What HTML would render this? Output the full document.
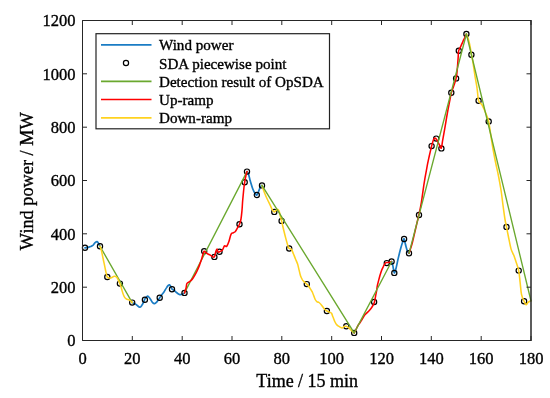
<!DOCTYPE html>
<html><head><meta charset="utf-8"><title>Wind power ramp detection</title>
<style>
html,body{margin:0;padding:0;background:#fff;}
body{width:550px;height:398px;overflow:hidden;}
svg{display:block;will-change:transform;}
text{font-family:"Liberation Serif",serif;fill:#000;stroke:#000;stroke-width:0.35px;}
.t{font-size:16.5px;}
.l{font-size:18px;}
.yl{font-size:18.3px;}
.g{font-size:15.1px;}
</style></head>
<body>
<svg width="550" height="398" viewBox="0 0 550 398">
<rect width="550" height="398" fill="#fff"/>
<path d="M85.0,247.8 C85.5,247.7 87.1,247.6 88.0,247.4 C88.9,247.2 89.8,247.0 90.6,246.6 C91.4,246.2 92.3,245.8 93.1,245.1 C93.8,244.4 94.4,243.3 95.1,242.7 C95.8,242.1 96.5,241.5 97.1,241.6 C97.7,241.7 98.1,242.7 98.6,243.5 C99.1,244.3 99.8,245.8 100.0,246.3" fill="none" stroke="#1A7CC4" stroke-width="1.7" stroke-linejoin="round" stroke-linecap="round"/>
<path d="M132.2,302.6 C132.8,302.9 134.4,303.3 135.6,304.1 C136.8,304.9 138.4,307.0 139.5,307.2 C140.6,307.4 141.3,306.0 142.0,305.1 C142.7,304.2 143.3,302.7 143.8,301.6 C144.3,300.6 144.4,299.7 145.0,298.8 C145.6,297.9 146.7,296.6 147.3,296.3 C147.9,296.0 148.2,296.4 148.8,297.0 C149.4,297.6 150.2,298.9 150.8,299.8 C151.4,300.7 152.0,302.0 152.6,302.6 C153.2,303.2 153.9,303.7 154.6,303.6 C155.3,303.5 156.0,302.7 156.6,302.1 C157.2,301.5 157.6,300.8 158.1,300.1 C158.6,299.4 159.1,298.6 159.7,297.7 C160.3,296.8 160.9,295.9 161.6,295.0 C162.3,294.1 163.0,293.5 163.8,292.3 C164.6,291.1 165.8,288.8 166.6,287.6 C167.3,286.4 167.8,285.8 168.3,285.3 C168.8,284.8 169.1,284.6 169.5,284.8 C169.9,285.0 170.4,285.8 170.8,286.5 C171.2,287.2 171.5,288.6 172.1,289.2 C172.7,289.8 173.5,289.8 174.2,290.4 C174.9,290.9 175.7,291.9 176.5,292.5 C177.3,293.1 178.2,293.8 178.9,294.2 C179.6,294.6 180.2,294.7 180.8,294.7 C181.4,294.7 182.1,294.3 182.7,294.0 C183.3,293.7 184.2,293.1 184.5,292.9" fill="none" stroke="#1A7CC4" stroke-width="1.7" stroke-linejoin="round" stroke-linecap="round"/>
<path d="M247.0,171.6 C247.2,171.8 247.6,171.5 248.2,173.1 C248.8,174.7 249.6,178.5 250.3,181.1 C251.1,183.7 251.9,186.6 252.7,188.7 C253.5,190.8 254.4,192.4 255.1,193.5 C255.8,194.6 256.2,195.5 256.8,195.0 C257.4,194.5 258.3,192.1 258.9,190.7 C259.5,189.3 259.9,187.7 260.4,186.8 C260.9,185.9 261.7,185.6 262.0,185.4" fill="none" stroke="#1A7CC4" stroke-width="1.7" stroke-linejoin="round" stroke-linecap="round"/>
<path d="M391.6,261.5 C391.8,262.3 392.6,264.5 393.0,266.4 C393.4,268.3 393.8,272.7 394.3,272.9 C394.8,273.1 395.6,269.9 396.2,267.6 C396.8,265.3 397.4,262.0 398.1,258.9 C398.8,255.8 399.8,251.8 400.6,248.8 C401.4,245.8 402.5,242.3 403.1,240.7 C403.7,239.1 403.8,238.3 404.2,239.0 C404.6,239.7 405.1,243.0 405.6,245.1 C406.2,247.2 406.9,249.9 407.5,251.3 C408.1,252.7 408.8,253.0 409.0,253.3" fill="none" stroke="#1A7CC4" stroke-width="1.7" stroke-linejoin="round" stroke-linecap="round"/>
<circle cx="85.0" cy="247.8" r="2.6" fill="none" stroke="#000" stroke-width="1.2"/>
<circle cx="100.0" cy="246.3" r="2.6" fill="none" stroke="#000" stroke-width="1.2"/>
<circle cx="107.3" cy="277.0" r="2.6" fill="none" stroke="#000" stroke-width="1.2"/>
<circle cx="119.9" cy="283.6" r="2.6" fill="none" stroke="#000" stroke-width="1.2"/>
<circle cx="132.2" cy="302.6" r="2.6" fill="none" stroke="#000" stroke-width="1.2"/>
<circle cx="144.9" cy="299.8" r="2.6" fill="none" stroke="#000" stroke-width="1.2"/>
<circle cx="159.7" cy="297.7" r="2.6" fill="none" stroke="#000" stroke-width="1.2"/>
<circle cx="172.0" cy="289.3" r="2.6" fill="none" stroke="#000" stroke-width="1.2"/>
<circle cx="184.5" cy="292.9" r="2.6" fill="none" stroke="#000" stroke-width="1.2"/>
<circle cx="204.2" cy="251.3" r="2.6" fill="none" stroke="#000" stroke-width="1.2"/>
<circle cx="214.4" cy="256.9" r="2.6" fill="none" stroke="#000" stroke-width="1.2"/>
<circle cx="219.5" cy="251.8" r="2.6" fill="none" stroke="#000" stroke-width="1.2"/>
<circle cx="239.5" cy="224.2" r="2.6" fill="none" stroke="#000" stroke-width="1.2"/>
<circle cx="244.7" cy="182.2" r="2.6" fill="none" stroke="#000" stroke-width="1.2"/>
<circle cx="247.0" cy="171.6" r="2.6" fill="none" stroke="#000" stroke-width="1.2"/>
<circle cx="256.8" cy="195.0" r="2.6" fill="none" stroke="#000" stroke-width="1.2"/>
<circle cx="262.0" cy="185.4" r="2.6" fill="none" stroke="#000" stroke-width="1.2"/>
<circle cx="274.3" cy="211.9" r="2.6" fill="none" stroke="#000" stroke-width="1.2"/>
<circle cx="281.6" cy="220.9" r="2.6" fill="none" stroke="#000" stroke-width="1.2"/>
<circle cx="289.2" cy="248.5" r="2.6" fill="none" stroke="#000" stroke-width="1.2"/>
<circle cx="306.8" cy="284.1" r="2.6" fill="none" stroke="#000" stroke-width="1.2"/>
<circle cx="326.9" cy="311.0" r="2.6" fill="none" stroke="#000" stroke-width="1.2"/>
<circle cx="346.3" cy="326.3" r="2.6" fill="none" stroke="#000" stroke-width="1.2"/>
<circle cx="354.2" cy="332.9" r="2.6" fill="none" stroke="#000" stroke-width="1.2"/>
<circle cx="374.1" cy="302.0" r="2.6" fill="none" stroke="#000" stroke-width="1.2"/>
<circle cx="386.8" cy="263.1" r="2.6" fill="none" stroke="#000" stroke-width="1.2"/>
<circle cx="391.6" cy="261.5" r="2.6" fill="none" stroke="#000" stroke-width="1.2"/>
<circle cx="394.3" cy="272.9" r="2.6" fill="none" stroke="#000" stroke-width="1.2"/>
<circle cx="404.1" cy="239.0" r="2.6" fill="none" stroke="#000" stroke-width="1.2"/>
<circle cx="409.0" cy="253.3" r="2.6" fill="none" stroke="#000" stroke-width="1.2"/>
<circle cx="419.0" cy="215.0" r="2.6" fill="none" stroke="#000" stroke-width="1.2"/>
<circle cx="431.6" cy="146.1" r="2.6" fill="none" stroke="#000" stroke-width="1.2"/>
<circle cx="436.2" cy="138.6" r="2.6" fill="none" stroke="#000" stroke-width="1.2"/>
<circle cx="441.4" cy="148.4" r="2.6" fill="none" stroke="#000" stroke-width="1.2"/>
<circle cx="451.3" cy="92.8" r="2.6" fill="none" stroke="#000" stroke-width="1.2"/>
<circle cx="456.1" cy="78.4" r="2.6" fill="none" stroke="#000" stroke-width="1.2"/>
<circle cx="458.8" cy="50.7" r="2.6" fill="none" stroke="#000" stroke-width="1.2"/>
<circle cx="466.4" cy="34" r="2.6" fill="none" stroke="#000" stroke-width="1.2"/>
<circle cx="471.4" cy="54.7" r="2.6" fill="none" stroke="#000" stroke-width="1.2"/>
<circle cx="478.6" cy="100.8" r="2.6" fill="none" stroke="#000" stroke-width="1.2"/>
<circle cx="488.7" cy="121.4" r="2.6" fill="none" stroke="#000" stroke-width="1.2"/>
<circle cx="506.5" cy="226.9" r="2.6" fill="none" stroke="#000" stroke-width="1.2"/>
<circle cx="518.7" cy="270.6" r="2.6" fill="none" stroke="#000" stroke-width="1.2"/>
<circle cx="524.1" cy="301.3" r="2.6" fill="none" stroke="#000" stroke-width="1.2"/>
<path d="M100.0,246.3 L132.2,302.6" fill="none" stroke="#6AA82E" stroke-width="1.35" stroke-linejoin="round" stroke-linecap="round"/>
<path d="M184.5,292.9 L247.0,171.6" fill="none" stroke="#6AA82E" stroke-width="1.35" stroke-linejoin="round" stroke-linecap="round"/>
<path d="M100.0,246.3 C100.2,247.1 101.0,248.8 101.5,250.9 C102.0,253.0 102.6,256.3 103.2,259.0 C103.8,261.7 104.4,264.8 104.9,267.1 C105.4,269.4 105.7,271.2 106.1,272.9 C106.5,274.5 106.6,276.1 107.2,277.0 C107.8,277.9 108.8,278.0 109.6,278.1 C110.4,278.2 111.1,277.8 111.9,277.5 C112.7,277.2 113.4,276.4 114.2,276.3 C115.0,276.2 115.8,276.4 116.5,277.0 C117.2,277.6 117.7,278.7 118.2,279.8 C118.8,280.9 119.3,282.3 119.8,283.4 C120.2,284.5 120.5,285.2 120.9,286.5 C121.3,287.8 121.8,289.7 122.2,291.1 C122.6,292.5 123.1,293.9 123.5,295.0 C123.9,296.1 124.3,296.9 124.8,297.6 C125.3,298.3 125.9,298.7 126.4,299.0 C127.0,299.3 127.5,299.4 128.1,299.6 C128.7,299.8 129.3,299.8 130.0,300.3 C130.7,300.8 131.8,302.2 132.2,302.6" fill="none" stroke="#FFD21F" stroke-width="1.55" stroke-linejoin="round" stroke-linecap="round"/>
<path d="M184.5,292.9 C184.8,292.1 185.6,289.8 186.0,288.3 C186.4,286.8 186.4,284.8 186.8,283.8 C187.2,282.8 187.7,282.8 188.3,282.3 C188.9,281.8 189.8,281.4 190.6,280.8 C191.3,280.2 192.1,279.5 192.8,278.5 C193.6,277.5 194.3,276.1 195.1,274.7 C195.9,273.3 196.7,271.8 197.4,270.2 C198.2,268.6 198.8,266.9 199.6,264.9 C200.3,262.9 201.3,260.1 201.9,258.1 C202.5,256.1 203.0,253.9 203.4,252.8 C203.8,251.7 203.6,251.2 204.2,251.3 C204.8,251.4 206.2,253.0 207.2,253.6 C208.2,254.2 209.3,254.6 210.2,255.1 C211.1,255.6 211.8,256.3 212.5,256.6 C213.2,256.9 213.8,257.8 214.4,256.9 C215.0,256.0 215.5,252.6 215.9,251.3 C216.3,250.0 216.6,249.0 217.0,249.1 C217.4,249.2 217.7,251.6 218.1,252.1 C218.5,252.6 218.8,252.1 219.5,251.8 C220.2,251.5 221.5,251.3 222.3,250.3 C223.1,249.3 223.8,246.6 224.5,245.9 C225.2,245.2 226.0,247.1 226.7,246.4 C227.4,245.7 228.2,243.6 228.9,241.6 C229.6,239.6 230.3,235.8 231.0,234.3 C231.7,232.8 232.5,233.3 233.2,232.8 C233.9,232.3 234.7,232.2 235.4,231.4 C236.1,230.6 236.9,228.9 237.6,227.7 C238.3,226.5 238.9,225.6 239.5,224.2 C240.1,222.8 240.6,221.3 241.0,219.0 C241.4,216.7 241.7,213.3 242.0,210.2 C242.3,207.1 242.4,203.4 242.7,200.2 C243.0,196.9 243.3,193.7 243.6,190.7 C243.9,187.7 244.3,184.8 244.7,182.2 C245.1,179.6 245.6,177.2 246.0,175.4 C246.4,173.6 246.8,172.2 247.0,171.6" fill="none" stroke="#FF0000" stroke-width="1.55" stroke-linejoin="round" stroke-linecap="round"/>
<path d="M262.0,185.4 C262.4,186.5 263.4,189.9 264.3,192.2 C265.2,194.5 266.3,197.1 267.3,199.3 C268.3,201.5 269.5,203.6 270.3,205.3 C271.1,207.1 271.6,208.7 272.3,209.8 C273.0,210.9 273.7,211.8 274.3,211.9 C274.9,212.0 275.5,210.7 276.0,210.3 C276.5,209.9 276.9,209.5 277.3,209.4 C277.7,209.3 278.1,209.6 278.5,210.0 C278.9,210.4 279.1,210.9 279.4,212.0 C279.7,213.1 280.0,215.0 280.4,216.5 C280.8,218.0 281.1,218.8 281.6,220.9 C282.1,223.0 282.8,226.4 283.5,229.3 C284.2,232.2 285.0,235.5 285.8,238.4 C286.6,241.3 287.5,244.8 288.1,246.5 C288.7,248.2 288.6,248.0 289.2,248.5 C289.8,249.0 290.8,248.6 291.5,249.5 C292.2,250.4 292.8,252.4 293.5,254.0 C294.2,255.6 294.8,257.3 295.5,259.0 C296.2,260.7 297.0,262.2 297.6,264.1 C298.2,266.0 298.6,268.1 299.1,270.1 C299.6,272.1 300.0,274.4 300.6,276.1 C301.2,277.8 301.9,279.0 302.6,280.1 C303.4,281.2 304.4,282.0 305.1,282.7 C305.8,283.4 306.1,283.3 306.8,284.1 C307.5,284.9 308.6,286.1 309.5,287.5 C310.4,288.9 311.4,290.2 312.4,292.2 C313.3,294.2 314.4,297.9 315.2,299.5 C316.0,301.1 316.6,301.3 317.2,301.8 C317.8,302.3 318.2,301.9 319.0,302.5 C319.8,303.1 320.9,304.3 321.8,305.4 C322.7,306.5 323.8,308.3 324.6,309.2 C325.5,310.1 326.1,310.5 326.9,311.0 C327.7,311.5 328.7,311.7 329.5,312.1 C330.3,312.5 330.9,312.5 331.5,313.3 C332.1,314.1 332.4,315.6 333.0,317.0 C333.6,318.4 334.3,320.6 335.0,322.0 C335.7,323.4 336.2,324.2 337.1,325.1 C338.0,326.0 339.3,326.6 340.1,327.1 C340.9,327.6 341.4,328.1 342.1,328.0 C342.8,327.9 343.4,326.8 344.1,326.5 C344.8,326.2 345.5,326.0 346.3,326.3 C347.1,326.6 348.3,327.5 349.1,328.1 C349.9,328.8 350.2,329.4 351.1,330.2 C352.0,331.0 353.7,332.4 354.2,332.9" fill="none" stroke="#FFD21F" stroke-width="1.55" stroke-linejoin="round" stroke-linecap="round"/>
<path d="M354.2,332.9 C354.6,332.2 355.8,329.9 356.5,328.5 C357.2,327.1 357.9,325.8 358.5,324.7 C359.1,323.6 359.7,323.1 360.3,322.2 C360.9,321.3 361.3,320.6 362.0,319.5 C362.7,318.4 363.7,316.4 364.5,315.3 C365.3,314.2 366.1,313.7 366.9,312.9 C367.7,312.1 368.5,311.4 369.3,310.5 C370.1,309.6 371.0,308.5 371.7,307.5 C372.4,306.5 373.0,305.4 373.5,304.5 C374.0,303.6 374.1,303.4 374.5,302.0 C374.9,300.6 375.3,297.8 375.6,296.0 C375.9,294.2 376.2,293.2 376.5,291.4 C376.8,289.6 377.0,287.3 377.5,285.0 C378.0,282.7 378.8,279.8 379.4,277.5 C380.0,275.2 380.7,273.1 381.3,271.3 C381.9,269.5 382.6,268.1 383.2,266.9 C383.8,265.6 384.2,264.5 384.8,263.8 C385.4,263.1 385.8,262.8 386.5,262.6 C387.2,262.4 387.9,262.7 388.8,262.5 C389.7,262.3 391.1,261.7 391.6,261.5" fill="none" stroke="#FF0000" stroke-width="1.55" stroke-linejoin="round" stroke-linecap="round"/>
<path d="M409.0,253.3 C409.5,251.6 411.2,247.0 412.2,243.2 C413.2,239.4 414.4,234.0 415.2,230.5 C416.0,227.0 416.6,224.6 417.2,222.0 C417.8,219.4 418.2,218.1 418.9,214.9 C419.6,211.7 420.5,207.8 421.3,202.9 C422.1,198.0 423.0,190.7 423.8,185.3 C424.6,179.9 425.5,174.9 426.4,170.3 C427.2,165.7 428.0,161.7 428.9,157.7 C429.8,153.7 430.8,149.2 431.6,146.1 C432.4,142.9 433.2,140.1 433.9,138.8 C434.6,137.6 435.1,137.8 435.9,138.6 C436.7,139.4 438.0,142.3 438.9,143.9 C439.8,145.5 440.7,148.7 441.3,148.1 C441.9,147.5 442.1,143.3 442.7,140.1 C443.3,136.9 443.9,133.2 444.7,128.8 C445.5,124.4 446.4,118.4 447.3,113.5 C448.2,108.6 449.3,102.9 450.0,99.4 C450.7,96.0 450.7,95.1 451.3,92.8 C451.9,90.5 453.0,88.2 453.8,85.8 C454.6,83.4 455.5,81.2 456.1,78.4 C456.7,75.6 457.0,72.7 457.3,69.1 C457.6,65.5 458.0,59.8 458.2,56.7 C458.4,53.6 458.2,52.4 458.7,50.6 C459.1,48.8 460.2,47.7 460.9,46.1 C461.6,44.5 462.4,42.6 463.1,41.1 C463.8,39.6 464.6,38.3 465.1,37.1 C465.7,35.9 466.2,34.5 466.4,34.0" fill="none" stroke="#FF0000" stroke-width="1.55" stroke-linejoin="round" stroke-linecap="round"/>
<path d="M466.4,34.0 C466.6,34.6 467.4,36.2 467.8,37.5 C468.2,38.8 468.7,40.4 469.1,42.0 C469.5,43.6 469.9,45.5 470.2,47.2 C470.5,48.9 470.9,51.0 471.1,52.2 C471.3,53.5 471.1,52.8 471.5,54.7 C471.9,56.6 472.6,59.9 473.2,63.8 C473.8,67.7 474.6,73.8 475.3,77.9 C476.0,82.0 476.6,84.6 477.1,88.4 C477.7,92.2 477.8,98.0 478.6,100.8 C479.4,103.5 480.7,102.5 482.0,104.9 C483.3,107.3 485.4,112.2 486.5,115.0 C487.6,117.8 487.9,117.8 488.7,121.4 C489.4,125.0 490.2,131.7 491.0,136.5 C491.8,141.3 492.4,145.6 493.2,150.0 C494.0,154.4 494.8,158.7 495.7,163.0 C496.6,167.3 497.6,171.5 498.5,176.0 C499.4,180.5 500.2,185.0 501.0,190.0 C501.8,195.0 502.4,201.0 503.1,206.0 C503.8,211.0 504.5,216.5 505.1,220.0 C505.7,223.5 506.0,224.2 506.5,226.9 C507.0,229.6 507.5,232.3 508.3,236.0 C509.1,239.7 510.1,245.8 511.1,249.1 C512.1,252.4 513.3,253.9 514.1,256.1 C514.9,258.3 515.3,259.7 516.1,262.1 C516.9,264.5 518.0,267.2 518.7,270.6 C519.4,274.0 519.6,278.2 520.1,282.2 C520.6,286.1 520.8,291.1 521.5,294.3 C522.2,297.5 523.3,299.6 524.1,301.3 C524.9,303.0 525.4,304.5 526.1,304.7 C526.8,304.9 527.3,303.0 528.1,302.3 C528.9,301.6 530.5,301.0 531.0,300.7" fill="none" stroke="#FFD21F" stroke-width="1.55" stroke-linejoin="round" stroke-linecap="round"/>
<path d="M262.0,185.4 L354.2,332.9" fill="none" stroke="#6AA82E" stroke-width="1.35" stroke-linejoin="round" stroke-linecap="round"/>
<path d="M354.2,332.9 L391.6,261.5" fill="none" stroke="#6AA82E" stroke-width="1.35" stroke-linejoin="round" stroke-linecap="round"/>
<path d="M409.0,253.3 L466.4,34.0" fill="none" stroke="#6AA82E" stroke-width="1.35" stroke-linejoin="round" stroke-linecap="round"/>
<path d="M466.4,34.0 L531.0,301.0" fill="none" stroke="#6AA82E" stroke-width="1.35" stroke-linejoin="round" stroke-linecap="round"/>
<path d="M82.5,20.5 H531.0 M531.0,340.5 H82.5 V20.5 M82.5,340.5 V336.0 M82.5,20.5 V25.0 M132.3,340.5 V336.0 M132.3,20.5 V25.0 M182.2,340.5 V336.0 M182.2,20.5 V25.0 M232.0,340.5 V336.0 M232.0,20.5 V25.0 M281.8,340.5 V336.0 M281.8,20.5 V25.0 M331.7,340.5 V336.0 M331.7,20.5 V25.0 M381.5,340.5 V336.0 M381.5,20.5 V25.0 M431.3,340.5 V336.0 M431.3,20.5 V25.0 M481.2,340.5 V336.0 M481.2,20.5 V25.0 M531.0,340.5 V336.0 M531.0,20.5 V25.0 M82.5,340.5 H87.0 M531.0,340.5 H526.5 M82.5,287.2 H87.0 M531.0,287.2 H526.5 M82.5,233.8 H87.0 M531.0,233.8 H526.5 M82.5,180.5 H87.0 M531.0,180.5 H526.5 M82.5,127.2 H87.0 M531.0,127.2 H526.5 M82.5,73.8 H87.0 M531.0,73.8 H526.5 M82.5,20.5 H87.0 M531.0,20.5 H526.5" fill="none" stroke="#262626" stroke-width="1"/>
<path d="M531.0,20.0 V341.0" fill="none" stroke="#262626" stroke-width="1.5"/>
<text x="82.5" y="363.5" text-anchor="middle" class="t">0</text>
<text x="132.3" y="363.5" text-anchor="middle" class="t">20</text>
<text x="182.2" y="363.5" text-anchor="middle" class="t">40</text>
<text x="232.0" y="363.5" text-anchor="middle" class="t">60</text>
<text x="281.8" y="363.5" text-anchor="middle" class="t">80</text>
<text x="331.7" y="363.5" text-anchor="middle" class="t">100</text>
<text x="381.5" y="363.5" text-anchor="middle" class="t">120</text>
<text x="431.3" y="363.5" text-anchor="middle" class="t">140</text>
<text x="481.2" y="363.5" text-anchor="middle" class="t">160</text>
<text x="531.0" y="363.5" text-anchor="middle" class="t">180</text>
<text x="75.5" y="346.2" text-anchor="end" class="t">0</text>
<text x="75.5" y="292.9" text-anchor="end" class="t">200</text>
<text x="75.5" y="239.5" text-anchor="end" class="t">400</text>
<text x="75.5" y="186.2" text-anchor="end" class="t">600</text>
<text x="75.5" y="132.9" text-anchor="end" class="t">800</text>
<text x="75.5" y="79.5" text-anchor="end" class="t">1000</text>
<text x="75.5" y="26.2" text-anchor="end" class="t">1200</text>
<text x="307.2" y="386.7" text-anchor="middle" class="l">Time / 15 min</text>
<text transform="translate(33,181.2) rotate(-90)" text-anchor="middle" class="yl">Wind power / MW</text>
<rect x="96" y="33.7" width="233.5" height="95.10000000000001" fill="#fff" stroke="#222" stroke-width="1.2"/>
<path d="M101,44.8 H151.5" stroke="#1A7CC4" stroke-width="1.7"/>
<text x="159" y="50.2" class="g">Wind power</text>
<circle cx="126" cy="63.0" r="2.6" fill="none" stroke="#000" stroke-width="1.2"/>
<text x="159" y="68.5" class="g">SDA piecewise point</text>
<path d="M101,81.3 H151.5" stroke="#6AA82E" stroke-width="1.7"/>
<text x="159" y="86.7" class="g">Detection result of OpSDA</text>
<path d="M101,99.5 H151.5" stroke="#FF0000" stroke-width="1.7"/>
<text x="159" y="105.0" class="g">Up-ramp</text>
<path d="M101,117.8 H151.5" stroke="#FFD21F" stroke-width="1.7"/>
<text x="159" y="123.2" class="g">Down-ramp</text>
</svg>
</body></html>
